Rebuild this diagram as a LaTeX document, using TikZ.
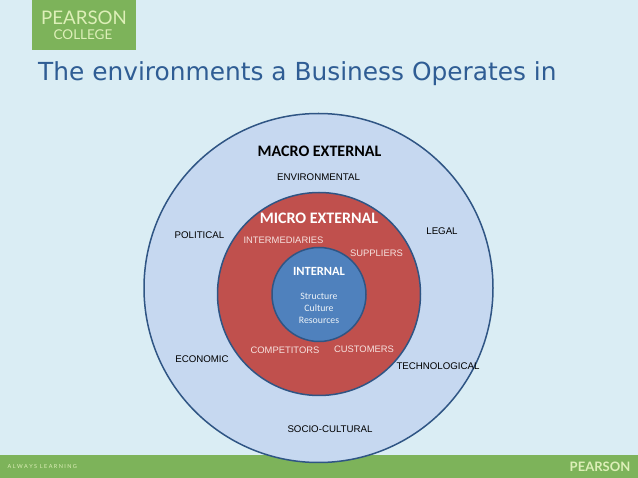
\documentclass[tikz,border=0pt]{standalone}
\usepackage{fontspec}
\setmainfont{Liberation Sans}
\newfontfamily\titlefont{DejaVu Sans}
\newfontfamily\calfont{Carlito}
\newfontfamily\logofont{Lato}
\definecolor{pagebg}{HTML}{DAEDF4}
\definecolor{barcol}{HTML}{7DB35A}
\definecolor{logotext}{HTML}{DDEFB8}
\definecolor{titlecol}{HTML}{2F5D94}
\definecolor{macrocol}{HTML}{C6D8F0}
\definecolor{microcol}{HTML}{C0504D}
\definecolor{internalcol}{HTML}{4F81BD}
\definecolor{ringcol}{HTML}{2F5584}
\definecolor{labelpale}{HTML}{F6E2DF}
\tikzset{
  ring/.style={draw=ringcol, line width=1.5pt, circle, inner sep=0pt},
  outerlabel/.style={font=\fontsize{9.7}{12}\selectfont, text=black, inner sep=0pt},
  microlabel/.style={font=\fontsize{9.4}{12}\selectfont, text=labelpale, inner sep=0pt},
}
\begin{document}
\begin{tikzpicture}[x=1pt, y=-1pt]
  % page and green bars
  \useasboundingbox (0,0) rectangle (638,478);
  \fill[pagebg] (0,0) rectangle (638,478);
  \fill[barcol] (0,455) rectangle (638,478);
  \fill[barcol] (32,0) rectangle (135.5,50);
  \node[font=\logofont\fontsize{18.7}{20}\selectfont, text=logotext, inner sep=0pt] (logotop) at (84,18) {PEARSON};
  \node[font=\logofont\fontsize{13.5}{14}\selectfont, text=logotext, inner sep=0pt] (logosub) at (83,34.5) {COLLEGE};
  \node[font=\titlefont\fontsize{24.85}{28}\selectfont, text=titlecol, anchor=west, inner sep=0pt] (title) at (38,74) {The environments a Business Operates in};
  % the three circles
  \node[ring, fill=macrocol, minimum size=349pt] (macro) at (318.5,288) {};
  \node[ring, fill=microcol, minimum size=203pt] (micro) at (319,294) {};
  \node[ring, fill=internalcol, minimum size=94pt] (internal) at (319,294.5) {};
  % macro labels
  \node[font=\calfont\bfseries\fontsize{16}{18}\selectfont, inner sep=0pt] (macrotitle) at (319.5,151) {MACRO EXTERNAL};
  \node[outerlabel] (environmental) at (318.5,177.5) {ENVIRONMENTAL};
  \node[outerlabel] (political) at (199.5,235.5) {POLITICAL};
  \node[outerlabel] (legal) at (442,231.5) {LEGAL};
  \node[outerlabel] (economic) at (202,359.5) {ECONOMIC};
  \node[outerlabel] (technological) at (438,366.5) {TECHNOLOGICAL};
  \node[outerlabel] (sociocultural) at (330,429.5) {SOCIO-CULTURAL};
  % micro labels
  \node[font=\calfont\bfseries\fontsize{16}{18}\selectfont, text=white, inner sep=0pt] (microtitle) at (319,218) {MICRO EXTERNAL};
  \node[microlabel] (intermediaries) at (283.5,240.5) {INTERMEDIARIES};
  \node[microlabel] (suppliers) at (376.5,253) {SUPPLIERS};
  \node[microlabel] (competitors) at (285,350.5) {COMPETITORS};
  \node[microlabel] (customers) at (364,349) {CUSTOMERS};
  % internal labels
  \node[font=\calfont\bfseries\fontsize{12.5}{14}\selectfont, text=white, inner sep=0pt] (internaltitle) at (319,271) {INTERNAL};
  \node[font=\calfont\fontsize{9.8}{12}\selectfont, text=white!90!internalcol, inner sep=0pt] (structure) at (319,296) {Structure};
  \node[font=\calfont\fontsize{9.8}{12}\selectfont, text=white!90!internalcol, inner sep=0pt] (culture) at (319,308) {Culture};
  \node[font=\calfont\fontsize{9.8}{12}\selectfont, text=white!90!internalcol, inner sep=0pt] (resources) at (319,320) {Resources};
  % footer
  \node[font=\logofont\fontsize{5.5}{6}\selectfont, text=logotext, anchor=west, inner sep=0pt] (always) at (7.5,466.5) {A L W A Y S\ \ L E A R N I N G};
  \node[font=\logofont\bfseries\fontsize{13}{14}\selectfont, text=logotext, anchor=east, inner sep=0pt] (pearson) at (630.5,467) {PEARSON};
\end{tikzpicture}
\end{document}
